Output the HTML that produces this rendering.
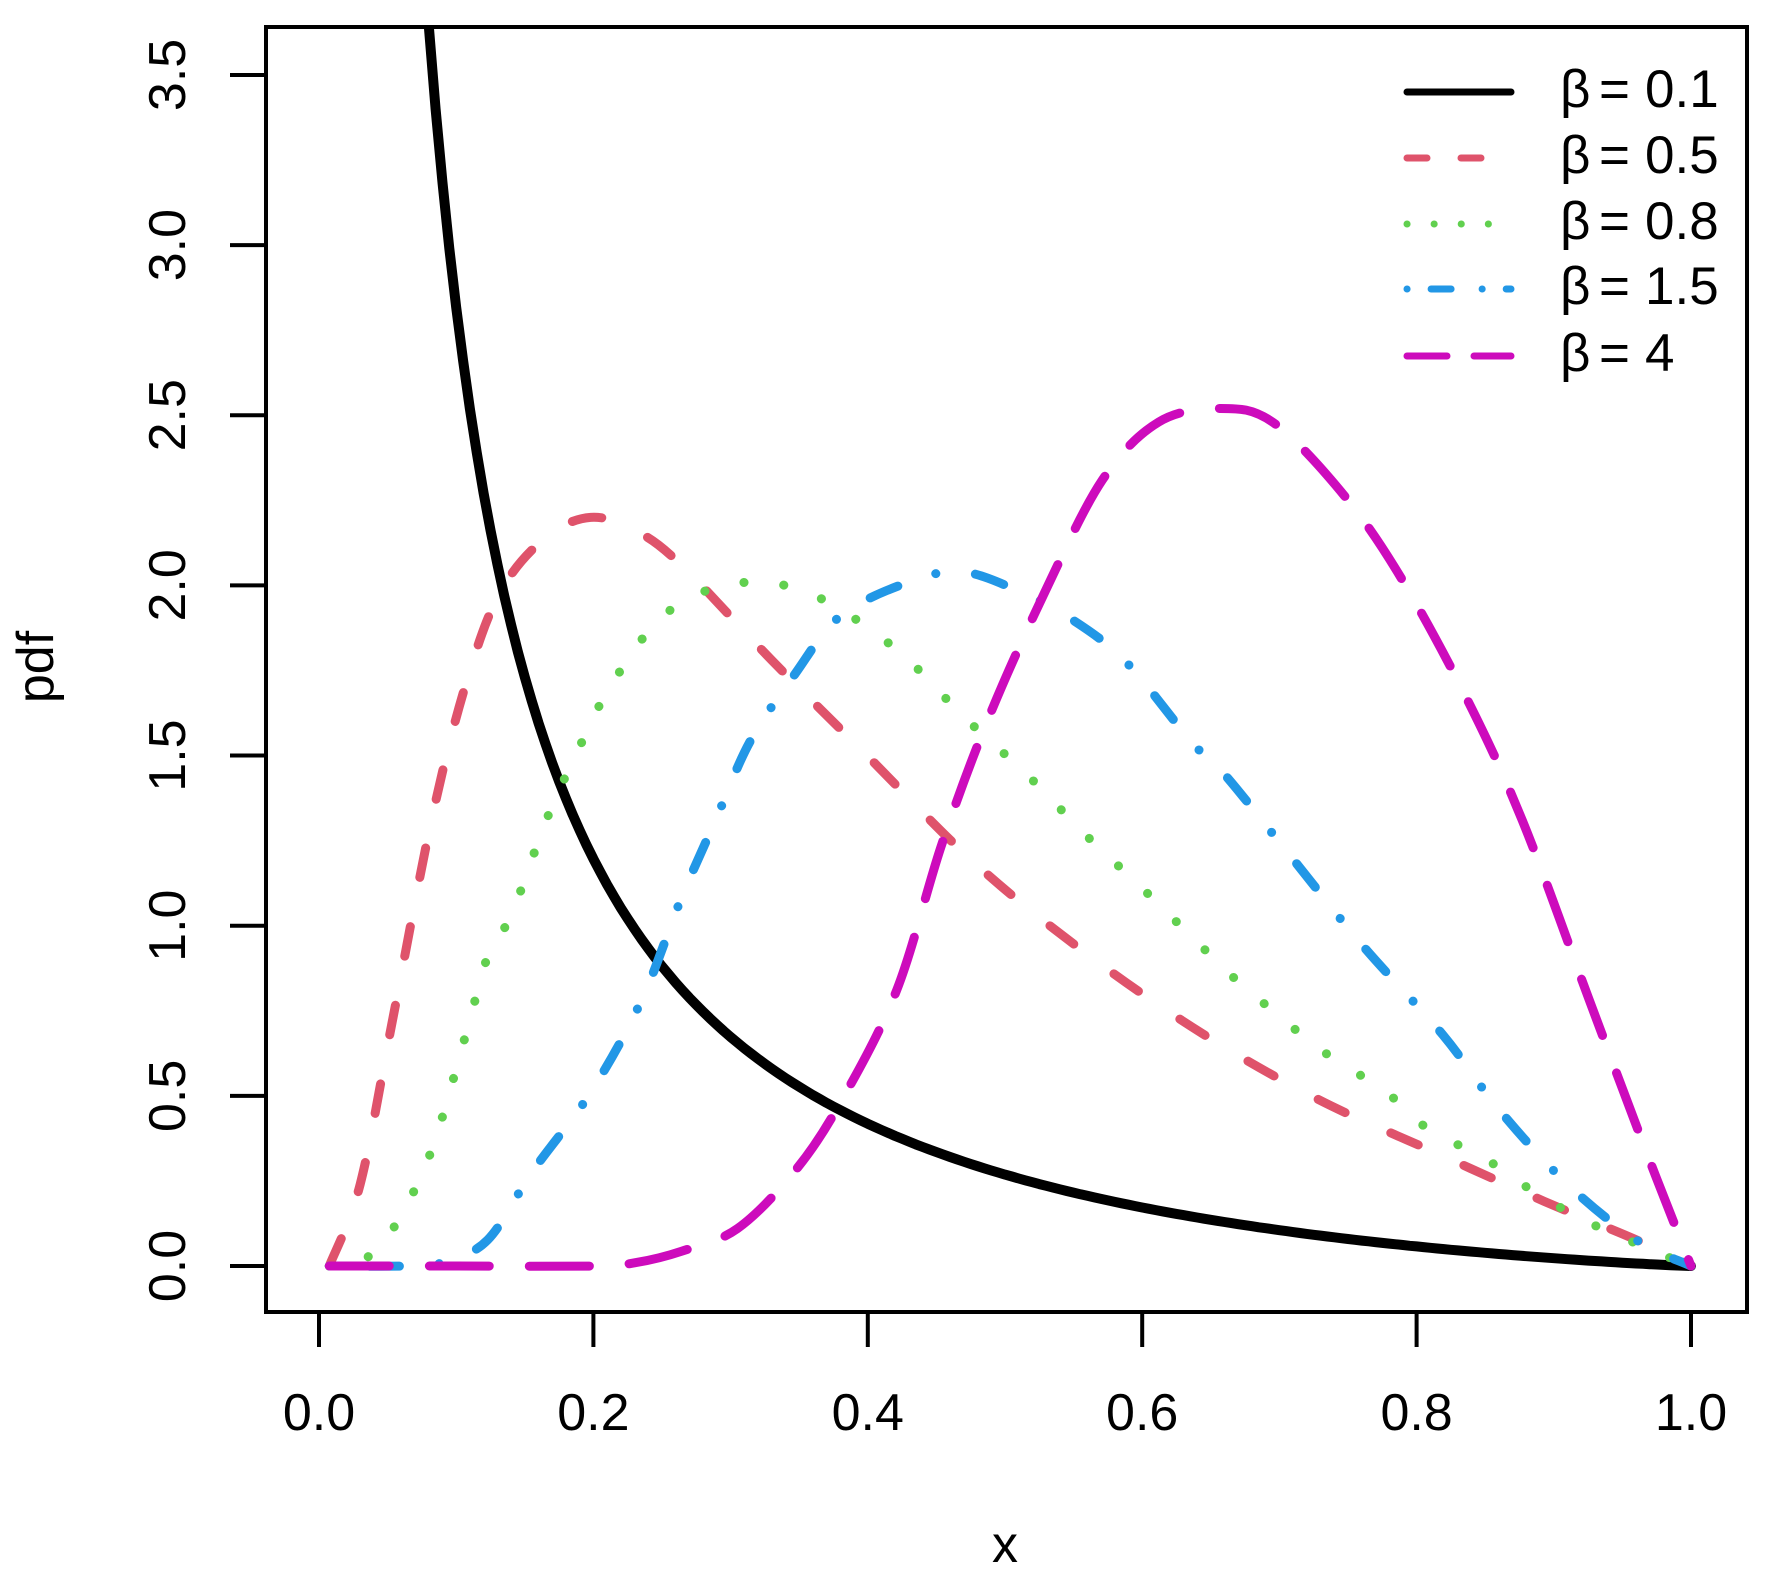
<!DOCTYPE html>
<html><head><meta charset="utf-8"><style>html,body{margin:0;padding:0;background:#fff}svg{display:block}text{font-family:"Liberation Sans",Arial,sans-serif;fill:#000}</style></head>
<body>
<svg id="s" width="1781" height="1588" viewBox="0 0 1781 1588" xmlns="http://www.w3.org/2000/svg">
<defs><clipPath id="c"><rect x="266" y="27" width="1481" height="1285"/></clipPath></defs>
<rect x="0" y="0" width="1781" height="1588" fill="#fff"/>
<g id="curves" clip-path="url(#c)" fill="none" stroke-linecap="round" stroke-linejoin="round" stroke-width="9"></g>
<rect x="266" y="27" width="1481" height="1285" fill="none" stroke="#000" stroke-width="4"/>
<g stroke="#000" stroke-width="4" id="ticks"></g>
<g font-size="52" id="labels"></g>
<text x="1005" y="1562" font-size="52" text-anchor="middle">x</text>
<text transform="translate(53,667) rotate(-90)" font-size="52" text-anchor="middle">pdf</text>
<g stroke-linecap="round" stroke-width="7" fill="none">
<line x1="1407" y1="92" x2="1511" y2="92" stroke="#000"/>
<line x1="1407" y1="158" x2="1511" y2="158" stroke="#DF536B" stroke-dasharray="20 34"/>
<line x1="1407" y1="224" x2="1511" y2="224" stroke="#61D04F" stroke-dasharray="0.1 27"/>
<line x1="1407" y1="289" x2="1511" y2="289" stroke="#2297E6" stroke-dasharray="0.1 24 20 31"/>
<line x1="1407" y1="356" x2="1511" y2="356" stroke="#CD0BBC" stroke-dasharray="40 27"/>
</g>
<g font-size="53">
<text x="1560" y="107">β</text><text x="1599" y="107">=</text><text x="1645" y="107">0.1</text>
<text x="1560" y="173">β</text><text x="1599" y="173">=</text><text x="1645" y="173">0.5</text>
<text x="1560" y="239">β</text><text x="1599" y="239">=</text><text x="1645" y="239">0.8</text>
<text x="1560" y="304">β</text><text x="1599" y="304">=</text><text x="1645" y="304">1.5</text>
<text x="1560" y="371">β</text><text x="1599" y="371">=</text><text x="1645" y="371">4</text>
</g>
</svg>
<script>
var X=function(x){return 319+1372*x}, Y=function(y){return 1266-340.3*y};
var NS="http://www.w3.org/2000/svg";
function el(p,t,a,txt){var e=document.createElementNS(NS,t);for(var k in a)e.setAttribute(k,a[k]);if(txt!=null)e.textContent=txt;p.appendChild(e);return e;}
var tk=document.getElementById('ticks'),lb=document.getElementById('labels');
for(var i=0;i<=5;i++){var v=i*0.2,x=X(v);el(tk,'line',{x1:x,y1:1312,x2:x,y2:1347});el(lb,'text',{x:x,y:1430,'text-anchor':'middle'},v.toFixed(1));}
for(var i=0;i<=7;i++){var v=i*0.5,y=Y(v);el(tk,'line',{x1:230,y1:y,x2:266,y2:y});el(lb,'text',{transform:'translate(185,'+y+') rotate(-90)','text-anchor':'middle'},v.toFixed(1));}
var kp=[];for(var x=0.05;x<=1.00001;x+=0.005){kp.push([x,0.29*Math.pow(x,-1.04)*Math.pow(Math.max(0,1-x),1.15)]);}
var D={
r:[[0.0075,0],[0.03,0.24],[0.053,0.71],[0.082,1.31],[0.107,1.71],[0.132,1.98],[0.165,2.14],[0.198,2.2],[0.231,2.16],[0.264,2.06],[0.33,1.78],[0.397,1.51],[0.479,1.18],[0.562,0.91],[0.645,0.68],[0.728,0.49],[0.81,0.34],[0.893,0.19],[0.96,0.077],[1,0]],
g:[[0.0075,0],[0.037,0.03],[0.057,0.13],[0.082,0.34],[0.107,0.68],[0.123,0.91],[0.14,1.03],[0.161,1.26],[0.173,1.38],[0.194,1.56],[0.21,1.69],[0.227,1.79],[0.243,1.88],[0.268,1.96],[0.297,2.0],[0.326,2.01],[0.355,1.98],[0.38,1.93],[0.405,1.86],[0.43,1.78],[0.471,1.61],[0.517,1.44],[0.558,1.27],[0.6,1.11],[0.643,0.94],[0.666,0.85],[0.71,0.7],[0.732,0.63],[0.778,0.51],[0.806,0.41],[0.852,0.31],[0.881,0.23],[0.91,0.16],[0.935,0.11],[0.993,0.01],[1,0]],
b:[[0.0075,0],[0.065,0],[0.09,0.01],[0.123,0.077],[0.156,0.28],[0.198,0.51],[0.235,0.78],[0.264,1.08],[0.289,1.31],[0.314,1.54],[0.347,1.74],[0.38,1.91],[0.43,2.01],[0.469,2.04],[0.512,1.98],[0.545,1.91],[0.587,1.78],[0.636,1.54],[0.661,1.44],[0.711,1.19],[0.761,0.94],[0.819,0.68],[0.86,0.46],[0.91,0.24],[0.96,0.077],[1,0]],
m:[[0.0075,0],[0.1,0],[0.2,0],[0.231,0.01],[0.264,0.043],[0.305,0.11],[0.347,0.28],[0.38,0.48],[0.421,0.81],[0.454,1.24],[0.488,1.61],[0.529,1.98],[0.571,2.31],[0.612,2.48],[0.657,2.52],[0.695,2.48],[0.744,2.28],[0.786,2.04],[0.835,1.68],[0.877,1.31],[0.926,0.78],[0.967,0.34],[1,0]]};
function path(pts){var P=pts.map(function(p){return [X(p[0]),Y(p[1])]});var d='M'+P[0][0]+','+P[0][1];
for(var i=0;i<P.length-1;i++){var p0=P[Math.max(0,i-1)],p1=P[i],p2=P[i+1],p3=P[Math.min(P.length-1,i+2)];
d+=' C'+(p1[0]+(p2[0]-p0[0])/6)+','+(p1[1]+(p2[1]-p0[1])/6)+' '+(p2[0]-(p3[0]-p1[0])/6)+','+(p2[1]-(p3[1]-p1[1])/6)+' '+p2[0]+','+p2[1];}return d;}
function poly(pts){return 'M'+pts.map(function(p){return X(p[0]).toFixed(1)+','+Y(p[1]).toFixed(1)}).join(' L');}
var g=document.getElementById('curves');
el(g,'path',{d:poly(kp),stroke:'#000','stroke-width':10});
var S=[['r','#DF536B','30 50'],['g','#61D04F','0.1 40'],['b','#2297E6','0.1 40 30 40'],['m','#CD0BBC','60 40']];
S.forEach(function(s){el(g,'path',{d:path(D[s[0]]),stroke:s[1],'stroke-dasharray':s[2]});});
</script>
</body></html>
